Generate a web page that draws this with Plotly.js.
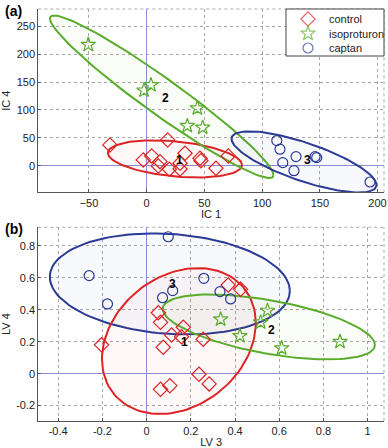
<!DOCTYPE html>
<html>
<head>
<meta charset="utf-8">
<script src="https://cdn.plot.ly/plotly-3.0.1.min.js"></script>
<style>html,body{margin:0;padding:0;background:#fff;}#chart{width:388px;height:448px;}</style>
</head>
<body>
<div id="chart"></div>
<script>
// ---- Panel (a): IC 1 vs IC 4 ----
const aControlX = [-31.8, 18.2, -2.9, 4.3, 11.5, 10.1, 19.6, 28.9, 28.9, 33.2, 46.2, 47.0, 60.0, 70.7];
const aControlY = [37.2, 46.2, 10.3, 17.4, 7.2, -0.5, -6.5, -6.0, 4.3, 22.3, 13.3, 9.0, -4.7, 17.4];
const aIsoX = [-50.6, -2.3, 3.7, 43.9, 35.2, 48.5];
const aIsoY = [217, 135, 144.6, 103, 71.4, 68.3];
const aCaptanX = [112.7, 115.5, 129.4, 117.9, 127.6, 145.9, 147.3, 193.5];
const aCaptanY = [45, 29.5, 16.2, 5.4, -9, 16.2, 14.4, -29.3];

// ---- Panel (b): LV 3 vs LV 4 ----
const bControlX = [0.053, 0.063, 0.113, 0.166, 0.158, 0.256, 0.075, -0.204, 0.237, 0.283, 0.063, 0.105, 0.369, 0.425];
const bControlY = [0.381, 0.321, 0.242, 0.29, 0.231, 0.215, 0.165, 0.18, -0.004, -0.064, -0.098, -0.075, 0.554, 0.527];
const bIsoX = [0.335, 0.422, 0.547, 0.516, 0.611, 0.875];
const bIsoY = [0.34, 0.236, 0.394, 0.321, 0.159, 0.2];
const bCaptanX = [0.098, -0.26, -0.177, 0.259, 0.072, 0.118, 0.332, 0.38];
const bCaptanY = [0.856, 0.613, 0.436, 0.596, 0.475, 0.519, 0.513, 0.467];

// Group ellipses: centre, two conjugate semi-axis vectors (data units)
const aEllControl = {c: [24.5, 12.05], A: [58.1, -10.8], B: [0, 31.5]};
const aEllIso = {c: [13, 123.5], A: [96.8, -140.3], B: [0, 39.6]};
const aEllCaptan = {c: [136.3, 6.7], A: [62.8, -41.4], B: [0, 36]};
const bEllControl = {c: [0.146, 0.204], A: [0.348, 0.1125], B: [0, 0.442]};
const bEllIso = {c: [0.553, 0.292], A: [0.48, -0.1125], B: [0, 0.169]};
const bEllCaptan = {c: [0.105, 0.561], A: [0.543, -0.044], B: [0, 0.3125]};

// Group number labels
const aLabelX = [28, 15.9, 139];
const aLabelY = [10, 122, 10];
const bLabelX = [0.173, 0.566, 0.118];
const bLabelY = [0.2, 0.273, 0.56];
const groupLabels = ['1', '2', '3'];

const groupNames = ['control', 'isoproturon', 'captan'];
const RED = '#dd2424', GREEN = '#5aad2c', BLUE = '#2b3a94';
const groupColors = [RED, GREEN, BLUE];
const groupSymbols = ['diamond-open', 'star-open', 'circle-open'];
const groupSizes = [11, 11, 10];

function ellipse(e, color, fill, xa, ya) {
  const xs = [], ys = [];
  for (let i = 0; i <= 120; i++) {
    const t = 2 * Math.PI * i / 120;
    xs.push(e.c[0] + e.A[0] * Math.cos(t) + e.B[0] * Math.sin(t));
    ys.push(e.c[1] + e.A[1] * Math.cos(t) + e.B[1] * Math.sin(t));
  }
  return {x: xs, y: ys, xaxis: xa, yaxis: ya, mode: 'lines', type: 'scatter',
    line: {color: color, width: 2}, fill: 'toself', fillcolor: fill,
    showlegend: false, hoverinfo: 'skip'};
}
function pts(x, y, g, xa, ya) {
  return {x: x, y: y, xaxis: xa, yaxis: ya, name: groupNames[g], type: 'scatter', mode: 'markers',
    marker: {symbol: groupSymbols[g], size: groupSizes[g], color: groupColors[g],
      line: {color: groupColors[g], width: 1.2}},
    showlegend: false};
}

// legend drawn in its own small overlay subplot (units ~ pixels inside the box)
const LEG_W = 98, LEG_H = 47, LEG_ROW0 = 10, LEG_ROW = 14.5, LEG_SYM_X = 22, LEG_TXT_X = 41;
const legendBox = {
  x: [0, LEG_W, LEG_W, 0, 0], y: [0, 0, LEG_H, LEG_H, 0], xaxis: 'x3', yaxis: 'y3',
  type: 'scatter', mode: 'lines', fill: 'toself', fillcolor: '#fff',
  line: {color: '#444', width: 1}, showlegend: false, hoverinfo: 'skip'
};
const legendTrace = {
  x: groupNames.map(() => LEG_SYM_X), y: groupNames.map((_, i) => LEG_ROW0 + LEG_ROW * i),
  xaxis: 'x3', yaxis: 'y3', type: 'scatter', mode: 'markers', showlegend: false, hoverinfo: 'skip',
  marker: {symbol: groupSymbols, size: groupSizes, color: groupColors,
    line: {color: groupColors, width: 1.2}}
};

const traces = [
  ellipse(aEllControl, RED, 'rgba(220,40,40,0.03)', 'x', 'y'),
  ellipse(aEllIso, GREEN, 'rgba(90,170,40,0.03)', 'x', 'y'),
  ellipse(aEllCaptan, BLUE, 'rgba(40,60,150,0.03)', 'x', 'y'),
  pts(aControlX, aControlY, 0, 'x', 'y'),
  pts(aIsoX, aIsoY, 1, 'x', 'y'),
  pts(aCaptanX, aCaptanY, 2, 'x', 'y'),
  ellipse(bEllCaptan, BLUE, 'rgba(40,60,150,0.03)', 'x2', 'y2'),
  ellipse(bEllControl, RED, 'rgba(220,40,40,0.03)', 'x2', 'y2'),
  ellipse(bEllIso, GREEN, 'rgba(90,170,40,0.03)', 'x2', 'y2'),
  pts(bControlX, bControlY, 0, 'x2', 'y2'),
  pts(bIsoX, bIsoY, 1, 'x2', 'y2'),
  pts(bCaptanX, bCaptanY, 2, 'x2', 'y2'),
  legendBox,
  legendTrace
];

const FONT = 'Liberation Sans, Arial, sans-serif';
function axis(extra) {
  return Object.assign({
    showgrid: true, gridcolor: '#a8a8a8', griddash: 'dot', gridwidth: 1,
    zeroline: true, zerolinecolor: '#8c8fd4', zerolinewidth: 1,
    showline: true, linecolor: '#555', linewidth: 1,
    ticks: 'inside', ticklen: 3, tickcolor: '#555',
    tickfont: {size: 11, color: '#222', family: FONT}, mirror: false, fixedrange: true
  }, extra);
}
const hidden = {visible: false, showgrid: false, zeroline: false, showline: false, fixedrange: true};

const annotations = [];
groupLabels.forEach((g, i) => {
  annotations.push({x: aLabelX[i], y: aLabelY[i], xref: 'x', yref: 'y', text: '<b>' + g + '</b>',
    showarrow: false, font: {size: 12, color: '#000', family: FONT}});
  annotations.push({x: bLabelX[i], y: bLabelY[i], xref: 'x2', yref: 'y2', text: '<b>' + g + '</b>',
    showarrow: false, font: {size: 12, color: '#000', family: FONT}});
});
groupNames.forEach((n, i) => {
  annotations.push({x: LEG_TXT_X, y: LEG_ROW0 + LEG_ROW * i, xref: 'x3', yref: 'y3', xanchor: 'left', yanchor: 'middle',
    text: n, showarrow: false, font: {size: 11, color: '#222', family: FONT}});
});
annotations.push({x: 3 / 388, y: 1 - 1 / 448, xref: 'paper', yref: 'paper', xanchor: 'left', yanchor: 'top',
  text: '<b>(a)</b>', showarrow: false, font: {size: 14, color: '#000', family: FONT}});
annotations.push({x: 3 / 388, y: 1 - 219 / 448, xref: 'paper', yref: 'paper', xanchor: 'left', yanchor: 'top',
  text: '<b>(b)</b>', showarrow: false, font: {size: 14, color: '#000', family: FONT}});

const dotted = {color: '#a8a8a8', width: 1, dash: 'dot'};
const shapes = [
  {type: 'line', xref: 'x domain', yref: 'y domain', x0: 0, x1: 1, y0: 1, y1: 1, line: dotted, layer: 'below'},
  {type: 'line', xref: 'x domain', yref: 'y domain', x0: 1, x1: 1, y0: 0, y1: 1, line: dotted, layer: 'below'},
  {type: 'line', xref: 'x2 domain', yref: 'y2 domain', x0: 0, x1: 1, y0: 1, y1: 1, line: dotted, layer: 'below'},
  {type: 'line', xref: 'x2 domain', yref: 'y2 domain', x0: 1, x1: 1, y0: 0, y1: 1, line: dotted, layer: 'below'}
];

const layout = {
  width: 388, height: 448,
  margin: {l: 0, r: 0, t: 0, b: 0},
  paper_bgcolor: '#fff', plot_bgcolor: 'rgba(0,0,0,0)',
  font: {family: FONT, size: 11, color: '#222'},
  showlegend: false,
  xaxis: axis({domain: [38.3 / 388, 384 / 388], range: [-93.9, 205.6], anchor: 'y',
    tickvals: [-50, 0, 50, 100, 150, 200],
    title: {text: 'IC 1', standoff: 2, font: {size: 11, family: FONT, color: '#222'}}}),
  yaxis: axis({domain: [1 - 192.3 / 448, 1 - 9 / 448], range: [-47.8, 281], anchor: 'x',
    tickvals: [0, 50, 100, 150, 200, 250],
    title: {text: 'IC 4', standoff: 4, font: {size: 11, family: FONT, color: '#222'}}}),
  xaxis2: axis({domain: [38.3 / 388, 384 / 388], range: [-0.49, 1.074], anchor: 'y2',
    tickvals: [-0.4, -0.2, 0, 0.2, 0.4, 0.6, 0.8, 1], ticktext: ['-0.4', '-0.2', '0', '0.2', '0.4', '0.6', '0.8', '1'],
    title: {text: 'LV 3', standoff: 2, font: {size: 11, family: FONT, color: '#222'}}}),
  yaxis2: axis({domain: [1 - 421 / 448, 1 - 227.3 / 448], range: [-0.296, 0.915], anchor: 'x2',
    tickvals: [-0.2, 0, 0.2, 0.4, 0.6, 0.8], ticktext: ['-0.2', '0', '0.2', '0.4', '0.6', '0.8'],
    title: {text: 'LV 4', standoff: 4, font: {size: 11, family: FONT, color: '#222'}}}),
  xaxis3: Object.assign({domain: [285 / 388, 385 / 388], range: [-1, LEG_W + 1], anchor: 'y3'}, hidden),
  yaxis3: Object.assign({domain: [1 - 57 / 448, 1 - 8 / 448], range: [LEG_H + 1, -1], anchor: 'x3'}, hidden),
  annotations: annotations,
  shapes: shapes
};

Plotly.newPlot('chart', traces, layout, {displayModeBar: false, staticPlot: true});
</script>
</body>
</html>
